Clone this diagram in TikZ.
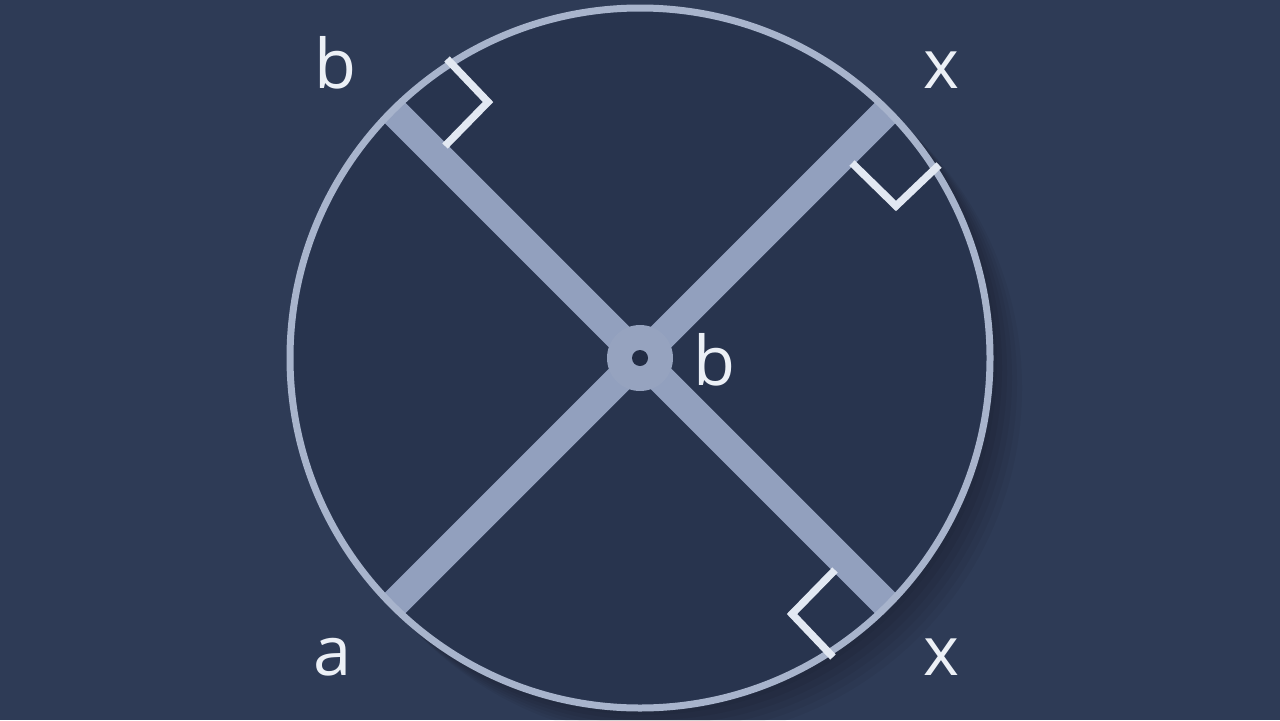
\documentclass[tikz,border=0pt]{standalone}
\usepackage{fontspec}
\setmainfont{Open Sans}
\usetikzlibrary{calc}
\definecolor{bgnavy}{RGB}{46,59,86}
\definecolor{innernavy}{RGB}{40,52,78}
\definecolor{pinnavy}{RGB}{34,44,68}
\definecolor{ringgrey}{RGB}{168,180,204}
\definecolor{bargrey}{RGB}{146,160,190}
\definecolor{hubgrey}{RGB}{150,163,191}
\definecolor{markwhite}{RGB}{226,232,242}
\definecolor{labelwhite}{RGB}{236,240,246}

\begin{document}
\begin{tikzpicture}[x=0.02cm,y=-0.02cm]
\tikzstyle{bar}=[bargrey,line width=0.58cm]
\tikzstyle{ring}=[draw=ringgrey,line width=0.14cm]
\tikzstyle{rightangle}=[markwhite,line width=0.15cm,line join=miter]
\tikzstyle{lbl}=[text=labelwhite,anchor=base,inner sep=0pt,font=\fontsize{39}{44}\selectfont]

\fill[bgnavy] (0,0) rectangle (1280,720);
\useasboundingbox (0,0) rectangle (1280,720);

\coordinate (O) at (640,358);
\coordinate (UL) at ($(O)+(-247,-247)$);
\coordinate (UR) at ($(O)+(247,-247)$);
\coordinate (LL) at ($(O)+(-247,247)$);
\coordinate (LR) at ($(O)+(247,247)$);

% soft shadow to the lower right
\foreach \i in {1,...,6}
  \fill[black,opacity=0.045] ($(O)+(5*\i,5*\i)$) circle (352);

\fill[innernavy] (O) circle (350);

\draw [bar] (UL) -- (LR);
\draw [bar] (LL) -- (UR);

\node (hub) [circle,fill=hubgrey,minimum size=1.32cm,inner sep=0pt] at (O) {};
\node (pin) [circle,fill=pinnavy,minimum size=0.32cm,inner sep=0pt] at (O) {};

\draw [ring] (O) circle (350);

\draw [rightangle] ($(UL)+(54,-52)$) -- ($(UL)+(95,-9)$) -- ($(UL)+(52,35)$);
\draw [rightangle] ($(UR)+(-35,52)$) -- ($(UR)+(9,95)$) -- ($(UR)+(52,54)$);
\draw [rightangle] ($(LR)+(-52,-35)$) -- ($(LR)+(-95,9)$) -- ($(LR)+(-54,52)$);

\node (b1) [lbl] at (335,88) {b};
\node (x1) [lbl] at (941,88) {x};
\node (a1) [lbl] at (333,675) {a};
\node (x2) [lbl] at (941,675) {x};
\node (b2) [lbl] at (714,385) {b};

\end{tikzpicture}
\end{document}
